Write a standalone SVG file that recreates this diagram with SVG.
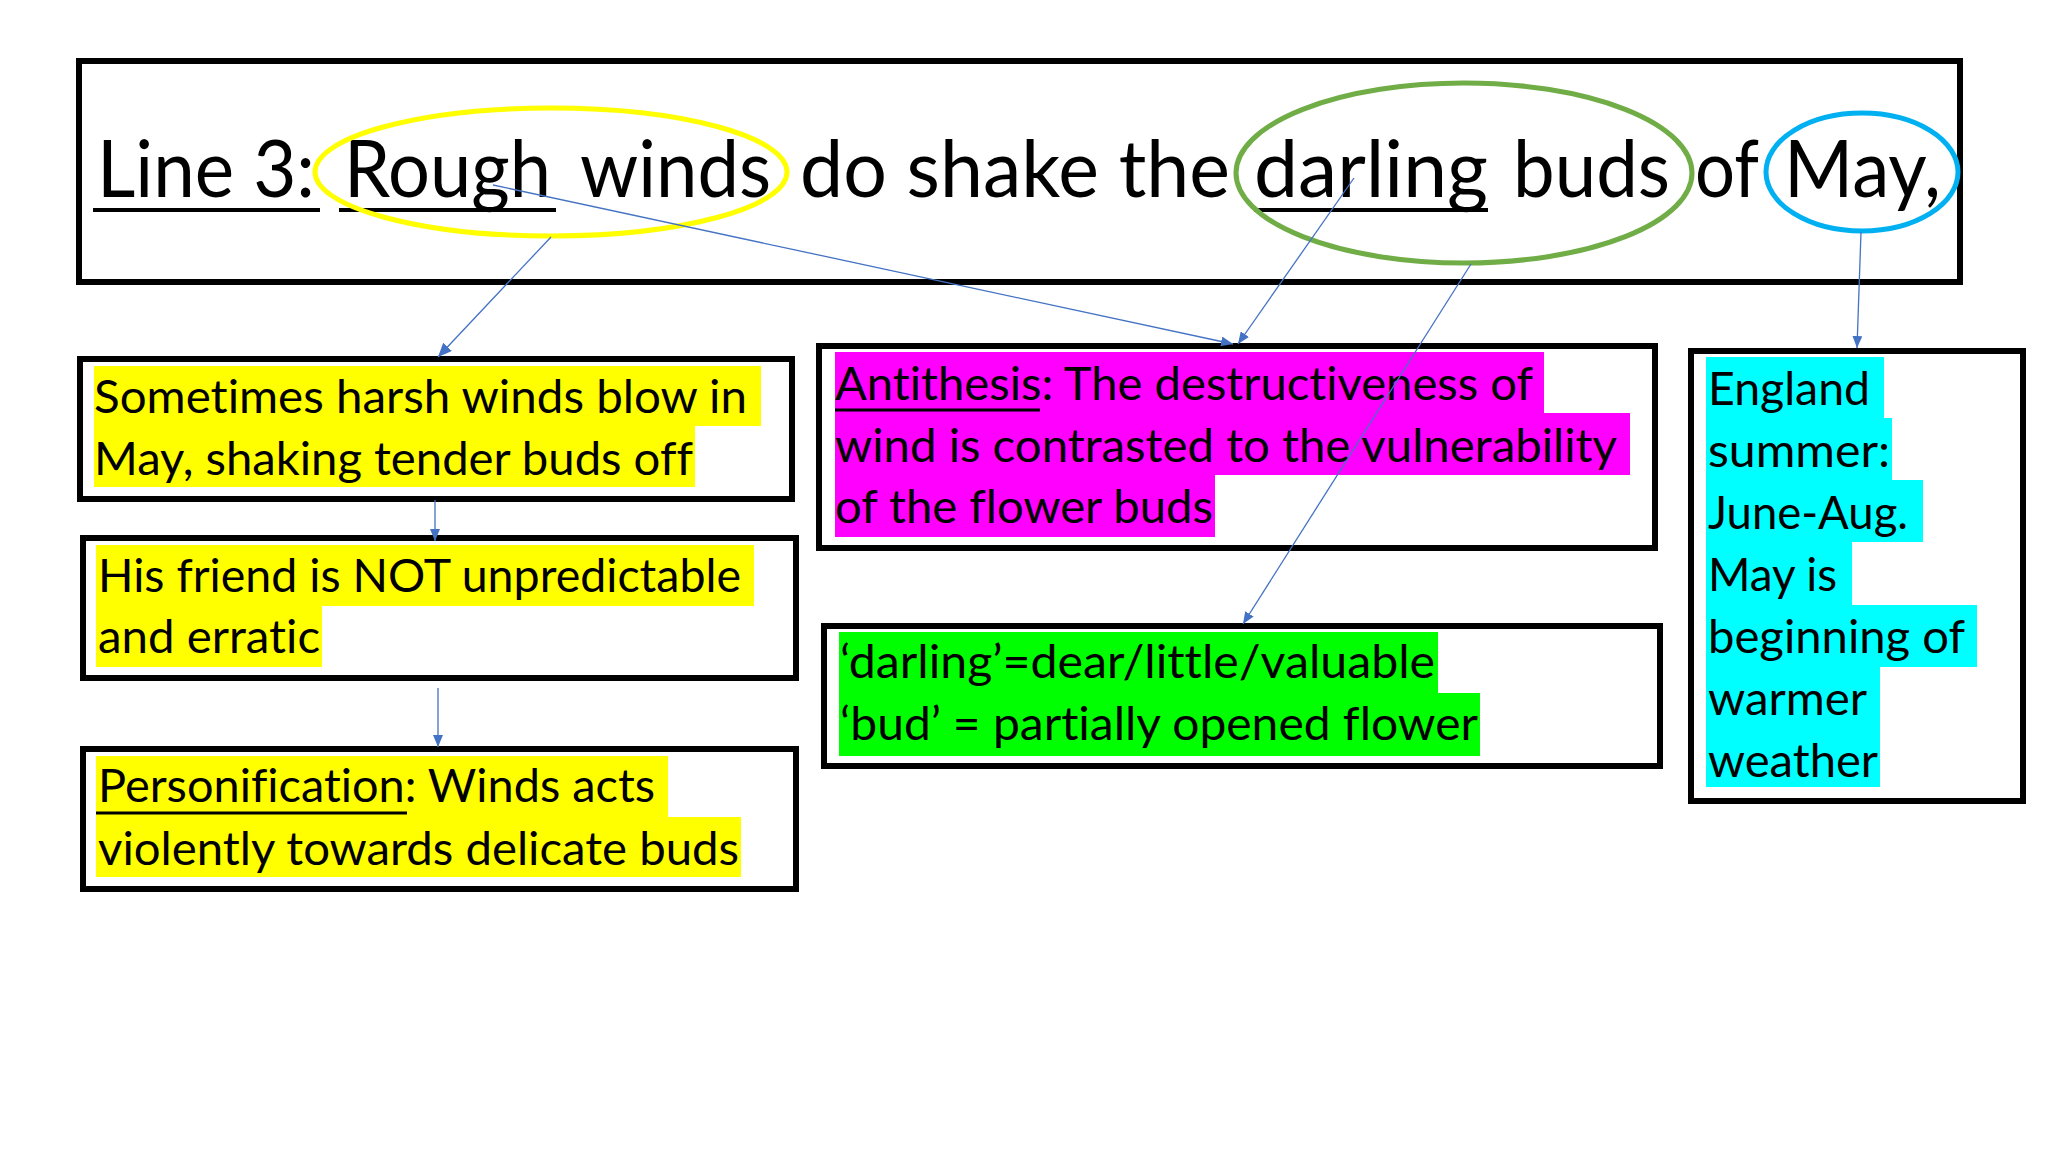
<svg xmlns="http://www.w3.org/2000/svg" width="2048" height="1152" viewBox="0 0 2048 1152">
  <style>
    .box { fill: none; stroke: #000; stroke-width: 6; }
    .t { font-family: Lato, "Liberation Sans", sans-serif; font-size: 47px; fill: #000; font-variant-ligatures: none; }
    .tt { font-family: Lato, "Liberation Sans", sans-serif; font-size: 79px; fill: #000; font-variant-ligatures: none; }
    .ul { stroke: #000; }
    .conn { fill: none; stroke: #4472C4; stroke-width: 1.3; }
    .hy { fill: #FFFF00; }
    .hm { fill: #FF00FF; }
    .hg { fill: #00FF00; }
    .hc { fill: #00FFFF; }
  </style>
  <defs>
    <marker id="arr" viewBox="0 0 12 10" refX="12" refY="5" markerWidth="12" markerHeight="10" markerUnits="userSpaceOnUse" orient="auto">
      <path d="M0,0 L12,5 L0,10 z" fill="#4472C4"/>
    </marker>
    <marker id="arrBig" viewBox="0 0 14 12" refX="14" refY="6" markerWidth="14" markerHeight="12" markerUnits="userSpaceOnUse" orient="auto">
      <path d="M0,0 L14,6 L0,12 z" fill="#4472C4"/>
    </marker>
  </defs>
  <rect width="2048" height="1152" fill="#fff"/>

  <g id="title">
    <rect class="box" x="79" y="61" width="1881" height="221"/>
    <text class="tt" x="97" y="197" textLength="218" lengthAdjust="spacingAndGlyphs">Line 3:</text>
    <text class="tt" x="344" y="197" textLength="207" lengthAdjust="spacingAndGlyphs">Rough</text>
    <text class="tt" x="580" y="197" textLength="191" lengthAdjust="spacingAndGlyphs">winds</text>
    <text class="tt" x="800" y="197" textLength="430" lengthAdjust="spacingAndGlyphs">do shake the</text>
    <text class="tt" x="1254" y="197" textLength="234" lengthAdjust="spacingAndGlyphs">darling</text>
    <text class="tt" x="1513" y="197" textLength="157" lengthAdjust="spacingAndGlyphs">buds</text>
    <text class="tt" x="1695" y="197" textLength="64" lengthAdjust="spacingAndGlyphs">of</text>
    <text class="tt" x="1784" y="197" textLength="157" lengthAdjust="spacingAndGlyphs">May,</text>
    <line class="ul" x1="93" y1="210" x2="320" y2="210" stroke-width="4"/>
    <line class="ul" x1="339" y1="210" x2="556" y2="210" stroke-width="4"/>
    <line class="ul" x1="1254" y1="210" x2="1488" y2="210" stroke-width="4"/>
    <ellipse cx="551" cy="172" rx="236" ry="64" fill="none" stroke="#FFFF00" stroke-width="5"/>
    <ellipse cx="1464" cy="173" rx="228" ry="90" fill="none" stroke="#70AD47" stroke-width="5"/>
    <ellipse cx="1862" cy="172" rx="96" ry="59" fill="none" stroke="#00B0F0" stroke-width="5"/>
  </g>

  <g id="node-harsh-winds">
    <rect class="hy" x="94" y="366" width="667" height="60"/>
    <rect class="hy" x="94" y="426" width="601" height="61"/>
    <rect class="box" x="80" y="359" width="712" height="140"/>
    <text class="t" x="94" y="413" textLength="653" lengthAdjust="spacingAndGlyphs">Sometimes harsh winds blow in</text>
    <text class="t" x="94" y="475" textLength="599" lengthAdjust="spacingAndGlyphs">May, shaking tender buds off</text>
  </g>

  <g id="node-friend">
    <rect class="hy" x="96" y="545" width="658" height="61"/>
    <rect class="hy" x="96" y="606" width="226" height="61"/>
    <rect class="box" x="83" y="538" width="713" height="140"/>
    <text class="t" x="98" y="592" textLength="643" lengthAdjust="spacingAndGlyphs">His friend is NOT unpredictable</text>
    <text class="t" x="98" y="653" textLength="222" lengthAdjust="spacingAndGlyphs">and erratic</text>
  </g>

  <g id="node-personification">
    <rect class="hy" x="96" y="756" width="572" height="61"/>
    <rect class="hy" x="96" y="817" width="645" height="60"/>
    <rect class="box" x="83" y="749" width="713" height="140"/>
    <text class="t" x="98" y="802" textLength="557" lengthAdjust="spacingAndGlyphs">Personification: Winds acts</text>
    <text class="t" x="98" y="865" textLength="641" lengthAdjust="spacingAndGlyphs">violently towards delicate buds</text>
    <line class="ul" x1="96" y1="813" x2="407" y2="813" stroke-width="3"/>
  </g>

  <g id="node-antithesis">
    <rect class="hm" x="835" y="352" width="709" height="61"/>
    <rect class="hm" x="835" y="413" width="795" height="62"/>
    <rect class="hm" x="835" y="475" width="380" height="62"/>
    <rect class="box" x="819" y="346" width="836" height="202"/>
    <text class="t" x="835" y="400" textLength="698" lengthAdjust="spacingAndGlyphs">Antithesis: The destructiveness of</text>
    <text class="t" x="835" y="462" textLength="782" lengthAdjust="spacingAndGlyphs">wind is contrasted to the vulnerability</text>
    <text class="t" x="835" y="523" textLength="378" lengthAdjust="spacingAndGlyphs">of the flower buds</text>
    <line class="ul" x1="835" y1="410" x2="1040" y2="410" stroke-width="3"/>
  </g>

  <g id="node-darling">
    <rect class="hg" x="839" y="632" width="599" height="61"/>
    <rect class="hg" x="839" y="693" width="641" height="63"/>
    <rect class="box" x="824" y="626" width="836" height="140"/>
    <text class="t" x="840" y="678" textLength="595" lengthAdjust="spacingAndGlyphs">‘darling’=dear/little/valuable</text>
    <text class="t" x="840" y="740" textLength="638" lengthAdjust="spacingAndGlyphs">‘bud’ = partially opened flower</text>
  </g>

  <g id="node-england">
    <rect class="hc" x="1706" y="357" width="178" height="61"/>
    <rect class="hc" x="1706" y="418" width="186" height="62"/>
    <rect class="hc" x="1706" y="480" width="217" height="62"/>
    <rect class="hc" x="1706" y="542" width="146" height="63"/>
    <rect class="hc" x="1706" y="605" width="271" height="62"/>
    <rect class="hc" x="1706" y="667" width="174" height="61"/>
    <rect class="hc" x="1706" y="728" width="174" height="59"/>
    <rect class="box" x="1691" y="351" width="332" height="450"/>
    <text class="t" x="1708" y="405" textLength="162" lengthAdjust="spacingAndGlyphs">England</text>
    <text class="t" x="1708" y="467" textLength="182" lengthAdjust="spacingAndGlyphs">summer:</text>
    <text class="t" x="1708" y="529" textLength="200" lengthAdjust="spacingAndGlyphs">June-Aug.</text>
    <text class="t" x="1708" y="591" textLength="129" lengthAdjust="spacingAndGlyphs">May is</text>
    <text class="t" x="1708" y="653" textLength="257" lengthAdjust="spacingAndGlyphs">beginning of</text>
    <text class="t" x="1708" y="715" textLength="159" lengthAdjust="spacingAndGlyphs">warmer</text>
    <text class="t" x="1708" y="777" textLength="170" lengthAdjust="spacingAndGlyphs">weather</text>
  </g>

  <g id="connectors">
    <line class="conn" x1="551" y1="237" x2="438" y2="357" stroke-width="2.8" marker-end="url(#arrBig)"/>
    <line class="conn" x1="435" y1="500" x2="435" y2="541" marker-end="url(#arr)"/>
    <line class="conn" x1="438" y1="688" x2="438" y2="747" marker-end="url(#arr)"/>
    <line class="conn" x1="493" y1="185" x2="1233" y2="344" marker-end="url(#arr)"/>
    <line class="conn" x1="1354" y1="178" x2="1238" y2="344" marker-end="url(#arr)"/>
    <line class="conn" x1="1471" y1="264" x2="1243" y2="624" marker-end="url(#arr)"/>
    <line class="conn" x1="1861" y1="232" x2="1857" y2="348" marker-end="url(#arr)"/>
  </g>
</svg>
